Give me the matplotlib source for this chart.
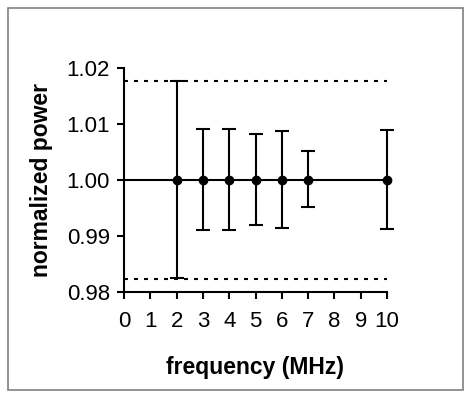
import numpy as np
import matplotlib
matplotlib.use('Agg')
import matplotlib.pyplot as plt
from matplotlib.patches import Rectangle

# frequencies (MHz) and normalized power with error bar limits
freq = [2, 3, 4, 5, 6, 7, 10]
power = [1.0, 1.0, 1.0, 1.0, 1.0, 1.0, 1.0]
upper = [1.0176, 1.0091, 1.0091, 1.0082, 1.0087, 1.0051, 1.0089]
lower = [0.9825, 0.9911, 0.9911, 0.9920, 0.9914, 0.9951, 0.9913]
limit_hi = 1.0176
limit_lo = 0.9824

plt.rcParams['font.family'] = ['Liberation Sans', 'DejaVu Sans']

fig = plt.figure(figsize=(4.74, 3.99), dpi=100)
fig.patches.append(Rectangle((8/474, 1 - 390/399), 455/474, 382/399,
                             transform=fig.transFigure, fill=False,
                             edgecolor='#808080', linewidth=1.2))
ax = fig.add_axes([124/474, 1 - 292/399, 263/474, 224/399])

p = np.array(power)
yerr = [p - np.array(lower), np.array(upper) - p]

ax.plot([0, 10], [1.0, 1.0], 'k-', lw=1.5)
ax.plot([0, 10], [limit_hi, limit_hi], 'k', ls=(0, (1.9, 2.9)), lw=1.5)
ax.plot([0, 10], [limit_lo, limit_lo], 'k', ls=(0, (1.9, 2.9)), lw=1.5)
eb = ax.errorbar(freq, power, yerr=yerr, fmt='o', color='k', ms=6,
                 capsize=4.8, elinewidth=1.5, capthick=1.5)
arts = [eb.lines[0]] + list(eb.lines[1]) + list(eb.lines[2])
for art in arts:
    art.set_clip_on(False)

ax.set_xlim(0, 10)
ax.set_ylim(0.98, 1.02)
ax.set_xticks(range(0, 11))
ax.set_yticks([0.98, 0.99, 1.00, 1.01, 1.02])
ax.set_yticklabels(['0.98', '0.99', '1.00', '1.01', '1.02'])
ax.spines['top'].set_visible(False)
ax.spines['right'].set_visible(False)
ax.spines['left'].set_linewidth(1.5)
ax.spines['bottom'].set_linewidth(1.5)
ax.tick_params(direction='out', length=5, width=1.5, labelsize=16)
ax.tick_params(axis='x', pad=9)
ax.tick_params(axis='y', pad=5)
ax.set_xlabel('frequency (MHz)', fontsize=16.5, fontweight='bold', labelpad=17)
ax.set_ylabel('normalized power', fontsize=16.5, fontweight='bold', labelpad=10)
for s in ax.spines.values():
    s.set_clip_on(False)

plt.savefig('out.png', dpi=100)
